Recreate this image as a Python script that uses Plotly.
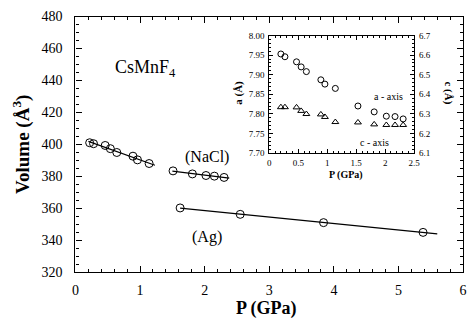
import numpy as np
import plotly.graph_objects as go

# ---- main data: volume vs pressure ----
p_low = [0.22, 0.28, 0.46, 0.54, 0.64, 0.89, 0.96, 1.14]
v_low = [401.0, 400.4, 399.3, 397.3, 394.9, 392.6, 390.3, 388.0]
p_nacl = [1.51, 1.81, 2.02, 2.15, 2.30]
v_nacl = [383.4, 381.5, 380.5, 380.1, 379.3]
p_ag = [1.62, 2.55, 3.84, 5.38]
v_ag = [360.2, 356.2, 351.0, 344.9]
# x extents of the fitted lines
fit_low = [0.20, 1.23]
fit_nacl = [1.50, 2.38]
fit_ag = [1.62, 5.60]

# ---- inset data: lattice parameters ----
p_inset = [0.20, 0.27, 0.47, 0.55, 0.64, 0.89, 0.96, 1.14, 1.53, 1.81, 2.02, 2.17, 2.31]
a_axis = [7.953, 7.946, 7.933, 7.920, 7.908, 7.887, 7.876, 7.865, 7.820, 7.805, 7.794, 7.793, 7.787]
c_axis = [6.334, 6.334, 6.333, 6.315, 6.299, 6.297, 6.284, 6.258, 6.256, 6.246, 6.243, 6.243, 6.243]

main_xticks = [0, 1, 2, 3, 4, 5, 6]
main_yticks = [320, 340, 360, 380, 400, 420, 440, 460, 480]
inset_xticks = [0, 0.5, 1, 1.5, 2, 2.5]
inset_xlabels = ["0", "0.5", "1", "1.5", "2", "2.5"]
inset_aticks = [7.70, 7.75, 7.80, 7.85, 7.90, 7.95, 8.00]
inset_cticks = [6.1, 6.2, 6.3, 6.4, 6.5, 6.6, 6.7]

FONT = "Liberation Serif, Times New Roman, serif"
W, H = 474, 325

fig = go.Figure()

def fit_line(px, vy, ext):
    k, b = np.polyfit(px, vy, 1)
    xs = np.array(ext)
    return xs, k * xs + b

for px, vy, ext in [(p_low, v_low, fit_low), (p_nacl, v_nacl, fit_nacl), (p_ag, v_ag, fit_ag)]:
    xs, ys = fit_line(px, vy, ext)
    fig.add_trace(go.Scatter(x=xs, y=ys, mode="lines", line=dict(color="black", width=1.2),
                             xaxis="x", yaxis="y", showlegend=False, hoverinfo="skip"))
    fig.add_trace(go.Scatter(x=px, y=vy, mode="markers",
                             marker=dict(symbol="circle-open", size=8, color="black", line=dict(width=1)),
                             xaxis="x", yaxis="y", showlegend=False))

fig.add_trace(go.Scatter(x=p_inset, y=a_axis, mode="markers",
                         marker=dict(symbol="circle-open", size=6, color="black", line=dict(width=1)),
                         xaxis="x2", yaxis="y2", showlegend=False))
fig.add_trace(go.Scatter(x=p_inset, y=c_axis, mode="markers",
                         marker=dict(symbol="triangle-up-open", size=6, color="black", line=dict(width=1)),
                         xaxis="x2", yaxis="y3", showlegend=False))

axis_common = dict(showline=True, linecolor="black", linewidth=1.2, ticks="inside",
                   tickcolor="black", showgrid=False, zeroline=False)

fig.update_layout(
    width=W, height=H, margin=dict(l=0, r=0, t=0, b=0),
    paper_bgcolor="white", plot_bgcolor="white",
    font=dict(family=FONT, color="black"),
    xaxis=dict(**axis_common, domain=[73 / W, 469 / W], range=[0, 6], anchor="y",
               tickvals=main_xticks, ticklen=6, tickwidth=1.2, mirror="ticks",
               minor=dict(ticks="inside", dtick=0.2, ticklen=3, tickcolor="black"),
               tickfont=dict(size=14, family=FONT), ticklabelstandoff=5),
    yaxis=dict(**axis_common, domain=[(H - 278) / H, (H - 10) / H], range=[320, 480], anchor="x",
               tickvals=main_yticks, ticklen=6, tickwidth=1.2, mirror="ticks",
               minor=dict(ticks="inside", dtick=5, ticklen=3, tickcolor="black"),
               tickfont=dict(size=14, family=FONT), ticklabelstandoff=9),
    xaxis2=dict(**axis_common, domain=[271 / W, 419 / W], range=[0, 2.5], anchor="y2",
                tickvals=inset_xticks, ticktext=inset_xlabels, ticklen=4, tickwidth=1, mirror="ticks",
                minor=dict(ticks="inside", dtick=0.1, ticklen=2, tickcolor="black"),
                tickfont=dict(size=9, family=FONT), ticklabelstandoff=1),
    yaxis2=dict(**axis_common, domain=[(H - 153) / H, (H - 30) / H], range=[7.70, 8.00], anchor="x2",
                tickvals=inset_aticks, tickformat=".2f", ticklen=4, tickwidth=1,
                minor=dict(ticks="inside", dtick=0.01, ticklen=2, tickcolor="black"),
                tickfont=dict(size=9, family=FONT), ticklabelstandoff=2),
    yaxis3=dict(**axis_common, range=[6.1, 6.7], anchor="x2", overlaying="y2", side="right",
                tickvals=inset_cticks, tickformat=".1f", ticklen=4, tickwidth=1,
                minor=dict(ticks="inside", dtick=0.02, ticklen=2, tickcolor="black"),
                tickfont=dict(size=9, family=FONT), ticklabelstandoff=2),
)

def A(**kw):
    d = dict(showarrow=False, xanchor="center", yanchor="middle")
    d.update(kw)
    return d

ann = [
    A(text="<b>Volume (Å<sup>3</sup>)</b>", x=18 / W, y=(H - 144) / H, xref="paper", yref="paper",
      textangle=-90, font=dict(size=19, family=FONT)),
    A(text="<b>P (GPa)</b>", x=268 / W, y=(H - 316) / H, xref="paper", yref="paper",
      font=dict(size=18, family=FONT)),
    A(text="CsMnF<sub>4</sub>", x=1.09, y=447.5, xref="x", yref="y", font=dict(size=18, family=FONT)),
    A(text="(NaCl)", x=2.03, y=392.0, xref="x", yref="y", font=dict(size=16, family=FONT)),
    A(text="(Ag)", x=2.03, y=342.0, xref="x", yref="y", font=dict(size=16, family=FONT)),
    A(text="a - axis", x=2.05, y=7.844, xref="x2", yref="y2", font=dict(size=10, family=FONT)),
    A(text="c - axis", x=1.81, y=7.727, xref="x2", yref="y2", font=dict(size=10, family=FONT)),
    A(text="<b>P (GPa)</b>", x=349 / W, y=(H - 176) / H, xref="paper", yref="paper",
      font=dict(size=10, family=FONT)),
    A(text="<b>a (Å)</b>", x=240 / W, y=(H - 90) / H, xref="paper", yref="paper",
      textangle=-90, font=dict(size=11, family=FONT)),
    A(text="<b>c (Å)</b>", x=454 / W, y=(H - 90) / H, xref="paper", yref="paper",
      textangle=90, font=dict(size=11, family=FONT)),
]
fig.update_layout(annotations=ann)

fig.write_html("out.html")
